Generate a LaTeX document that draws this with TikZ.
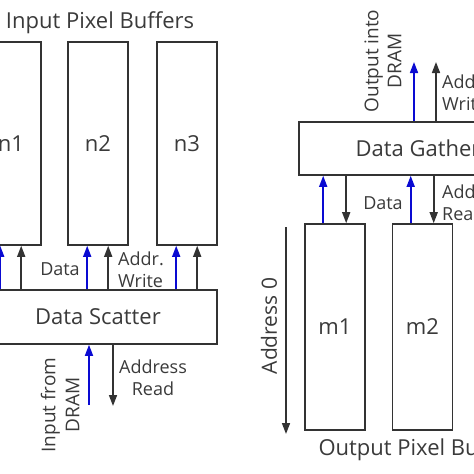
\documentclass[tikz,border=0pt]{standalone}
\usepackage{fontspec}
\setmainfont{Open Sans}
\usetikzlibrary{arrows.meta,positioning,calc}
\definecolor{linegray}{RGB}{51,51,51}
\definecolor{txtgray}{RGB}{58,58,58}
\definecolor{flowblue}{RGB}{10,10,210}

\begin{document}
\begin{tikzpicture}[x=1pt, y=-1pt,
    buffer/.style={draw=linegray, line width=1.6pt, minimum width=60pt, inner sep=0pt, text=txtgray, font=\fontsize{22}{26}\selectfont},
    engine/.style={draw=linegray, line width=1.6pt, minimum width=238pt, minimum height=54pt, inner sep=0pt, text=txtgray, font=\fontsize{22}{26}\selectfont},
    dataflow/.style={-{Triangle[length=11pt,width=8pt]}, line width=1.6pt, draw=flowblue, fill=flowblue},
    addrflow/.style={-{Triangle[length=11pt,width=8pt]}, line width=1.6pt, draw=linegray, fill=linegray},
    lbl/.style={text=txtgray, font=\fontsize{18}{22}\selectfont, inner sep=0pt, align=center}]
    \useasboundingbox (0,0) rectangle (474,474);
    \clip (0,0) rectangle (474,474);

    % Input side
    \node[text=txtgray, font=\fontsize{22}{26}\selectfont] (intitle) at (100,23) {Input Pixel Buffers};
    \node[buffer, minimum height=203pt] (n1) at (11,143.5) {n1};
    \node[buffer, minimum height=203pt] (n2) at (98,143.5) {n2};
    \node[buffer, minimum height=203pt] (n3) at (187,143.5) {n3};
    \node[engine] (scatter) at (98,317) {Data Scatter};

    \foreach \b in {n1,n2,n3} {
        \draw[dataflow] ([xshift=20pt]\b.south west |- scatter.north) -- ([xshift=20pt]\b.south west);
        \draw[addrflow] ([xshift=41pt]\b.south west |- scatter.north) -- ([xshift=41pt]\b.south west);
    }
    \node[lbl] (sdata) at (60,269) {Data};
    \node[lbl, align=left, anchor=west] (swrite) at (118,270) {Addr.\\Write};

    \coordinate (indata) at (89,405);
    \coordinate (rdaddr) at (113,406);
    \draw[dataflow] (indata) -- (indata |- scatter.south);
    \draw[addrflow] (rdaddr |- scatter.south) -- (rdaddr);
    \node[lbl, font=\fontsize{19}{24}\selectfont, rotate=90] (inlbl) at (60,405) {Input from\\DRAM};
    \node[lbl] (rdlbl) at (153,378) {Address\\Read};

    % Output side
    \node[engine, minimum height=53pt] (gather) at (418,148.5) {Data Gather};
    \node[buffer, minimum height=206pt] (m1) at (335,327) {m1};
    \node[buffer, minimum height=206pt] (m2) at (422.5,327) {m2};
    \node[text=txtgray, font=\fontsize{22}{26}\selectfont] (outtitle) at (422,450) {Output Pixel Buffers};

    \foreach \b in {m1,m2} {
        \draw[dataflow] ([xshift=19pt]\b.north west) -- ([xshift=19pt]\b.north west |- gather.south);
        \draw[addrflow] ([xshift=42pt]\b.north west |- gather.south) -- ([xshift=42pt]\b.north west);
    }
    \node[lbl] (gdata) at (383,203) {Data};
    \node[lbl, align=left, anchor=west] (gread) at (442,203) {Addr.\\Read};

    \coordinate (outdata) at (414,62);
    \coordinate (wraddr) at (436,62);
    \draw[dataflow] (gather.north -| outdata) -- (outdata);
    \draw[addrflow] (gather.north -| wraddr) -- (wraddr);
    \node[lbl, font=\fontsize{19}{23}\selectfont, rotate=90] (outlbl) at (383,61) {Output into\\DRAM};
    \node[lbl, align=left, anchor=west] (gwrite) at (442,93) {Addr.\\Write};

    % address order
    \coordinate (a0start) at (286,227);
    \coordinate (a0end) at (286,434);
    \draw[addrflow] (a0start) -- (a0end);
    \node[lbl, font=\fontsize{21}{25}\selectfont, rotate=90] (a0lbl) at (269,326) {Address 0};
\end{tikzpicture}
\end{document}
